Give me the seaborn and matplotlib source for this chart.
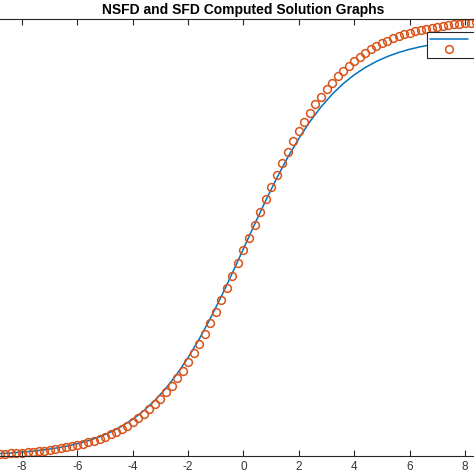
import numpy as np
import pandas as pd
import matplotlib
matplotlib.use("Agg")
import matplotlib.pyplot as plt
import seaborn as sns

# NSFD solution (solid line)
nsfd_x = [-8.8, -8.4, -8.0, -7.6, -7.2, -6.8, -6.4, -6.0, -5.6, -5.2, -4.8,
          -4.4, -4.0, -3.6, -3.2, -2.8, -2.4, -2.0, -1.6, -1.2, -0.8, -0.4,
          0.0, 0.4, 0.8, 1.2, 1.6, 2.0, 2.4, 2.8, 3.2, 3.6, 4.0, 4.4, 4.8,
          5.2, 5.6, 6.0, 6.4, 6.8, 7.2, 7.6, 8.0, 8.4]
nsfd_y = [0.0057, 0.0071, 0.0090, 0.0113, 0.0142, 0.0178, 0.0224, 0.0281,
          0.0351, 0.0439, 0.0547, 0.0679, 0.0841, 0.1037, 0.1272, 0.1551,
          0.1876, 0.2252, 0.2675, 0.3145, 0.3654, 0.4191, 0.4745, 0.5300,
          0.5842, 0.6357, 0.6835, 0.7268, 0.7653, 0.7989, 0.8276, 0.8520,
          0.8723, 0.8891, 0.9029, 0.9142, 0.9233, 0.9307, 0.9366, 0.9414,
          0.9452, 0.9482, 0.9506, 0.9525]

# SFD solution (circles)
sfd_x = [-8.8, -8.6, -8.4, -8.2, -8.0, -7.8, -7.6, -7.4, -7.2, -7.0, -6.8,
         -6.6, -6.4, -6.2, -6.0, -5.8, -5.6, -5.4, -5.2, -5.0, -4.8, -4.6,
         -4.4, -4.2, -4.0, -3.8, -3.6, -3.4, -3.2, -3.0, -2.8, -2.6, -2.4,
         -2.2, -2.0, -1.8, -1.6, -1.4, -1.2, -1.0, -0.8, -0.6, -0.4, -0.2,
         0.0, 0.2, 0.4, 0.6, 0.8, 1.0, 1.2, 1.4, 1.6, 1.8, 2.0, 2.2, 2.4,
         2.6, 2.8, 3.0, 3.2, 3.4, 3.6, 3.8, 4.0, 4.2, 4.4, 4.6, 4.8, 5.0,
         5.2, 5.4, 5.6, 5.8, 6.0, 6.2, 6.4, 6.6, 6.8, 7.0, 7.2, 7.4, 7.6,
         7.8, 8.0, 8.2, 8.4]
sfd_y = [0.0049, 0.0055, 0.0062, 0.0070, 0.0079, 0.0088, 0.0099, 0.0112,
         0.0125, 0.0141, 0.0158, 0.0178, 0.0200, 0.0224, 0.0251, 0.0282,
         0.0316, 0.0354, 0.0397, 0.0445, 0.0497, 0.0556, 0.0622, 0.0694,
         0.0774, 0.0863, 0.0960, 0.1068, 0.1186, 0.1315, 0.1455, 0.1608,
         0.1774, 0.1953, 0.2145, 0.2351, 0.2569, 0.2801, 0.3045, 0.3301,
         0.3567, 0.3841, 0.4125, 0.4413, 0.4705, 0.5000, 0.5295, 0.5587,
         0.5875, 0.6159, 0.6434, 0.6700, 0.6955, 0.7199, 0.7431, 0.7649,
         0.7855, 0.8047, 0.8226, 0.8392, 0.8545, 0.8685, 0.8814, 0.8932,
         0.9040, 0.9137, 0.9226, 0.9306, 0.9379, 0.9444, 0.9503, 0.9556,
         0.9603, 0.9646, 0.9684, 0.9718, 0.9749, 0.9776, 0.9800, 0.9822,
         0.9842, 0.9859, 0.9875, 0.9888, 0.9901, 0.9912, 0.9921]

x_ticks = [-8, -6, -4, -2, 0, 2, 4, 6, 8]

sns.set_style("white")
plt.rcParams['font.family'] = ['Liberation Sans', 'DejaVu Sans']
plt.rcParams['axes.unicode_minus'] = False

line_blue = '#0072BD'
circ_orange = '#D95319'
axis_gray = '#262626'

fig = plt.figure(figsize=(4.74, 4.74), dpi=100)
# axes fill the whole width; left/right sides are cropped like the reference
ax = fig.add_axes([0, 18 / 474, 1, 437 / 474])

nsfd = pd.DataFrame({'x': nsfd_x, 'y': nsfd_y})
sfd = pd.DataFrame({'x': sfd_x, 'y': sfd_y})

sns.lineplot(data=nsfd, x='x', y='y', ax=ax, color=line_blue, lw=1.1,
             sort=False)
sns.lineplot(data=sfd, x='x', y='y', ax=ax, color=circ_orange, linestyle='',
             marker='o', ms=5.6, markerfacecolor='none',
             markeredgecolor=circ_orange, markeredgewidth=1.1,
             sort=False, clip_on=False)

ax.set_xlim(-8.794, 8.325)
ax.set_ylim(0, 1)
ax.set_xticks(x_ticks)
ax.set_xticklabels([str(t) for t in x_ticks])
ax.set_xlabel('')
ax.set_ylabel('')

for side in ['left', 'right']:
    ax.spines[side].set_visible(False)
for side in ['top', 'bottom']:
    ax.spines[side].set_color(axis_gray)
    ax.spines[side].set_linewidth(0.8)

ax.tick_params(axis='x', which='both', direction='in', top=True, bottom=True,
               length=4.3, width=0.8, color=axis_gray, labelsize=8.5,
               labelcolor='#333333', pad=3.5)
ax.tick_params(axis='y', left=False, right=False, labelleft=False)

# legend box runs off the right edge, its labels are cropped away
handles = ax.get_lines()[:2]
leg = ax.legend(handles, ['', ''], loc='upper left',
                bbox_to_anchor=(427 / 474, 424 / 437),
                borderaxespad=0, fancybox=False, framealpha=1,
                edgecolor=axis_gray, fontsize=8, handlelength=3.4,
                labelspacing=0.05, borderpad=0.25, numpoints=1)
leg.get_frame().set_linewidth(0.8)

fig.text(243.5 / 474, 1 - 14 / 474, 'NSFD and SFD Computed Solution Graphs',
         ha='center', va='baseline', fontsize=10, fontweight='bold',
         color='#000000')

fig.savefig('out.png', dpi=100)
